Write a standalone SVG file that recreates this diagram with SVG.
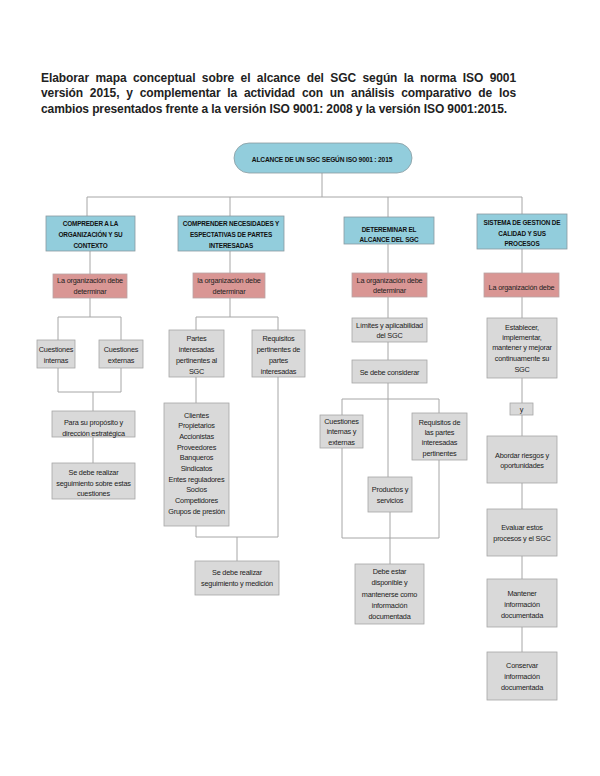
<svg xmlns="http://www.w3.org/2000/svg" width="600" height="776" viewBox="0 0 600 776">
<style>
.title{font-family:"Liberation Sans",Arial,sans-serif;font-size:12px;font-weight:bold;fill:#222;letter-spacing:-0.1px}
.blue{fill:#92CDDC;stroke:#8a9aa0;stroke-width:0.8}
.pink{fill:#D99694;stroke:#b9a4a4;stroke-width:0.8}
.gray{fill:#D9D9D9;stroke:#a6a6a6;stroke-width:0.8}
.hb{font-family:"Liberation Sans",Arial,sans-serif;font-size:6.4px;font-weight:bold;fill:#111;text-anchor:middle;letter-spacing:-0.15px}
.t{font-family:"Liberation Sans",Arial,sans-serif;font-size:7.3px;fill:#222;text-anchor:middle;letter-spacing:-0.2px}
#connectors path{fill:none;stroke:#a6a6a6;stroke-width:1}
</style>
<rect width="600" height="776" fill="#fff"/>
<g id="title">
<text class="title" x="41" y="81.5" word-spacing="3.2" textLength="475" lengthAdjust="spacing">Elaborar mapa conceptual sobre el alcance del SGC según la norma ISO 9001</text>
<text class="title" x="41" y="97" word-spacing="3.6" textLength="475" lengthAdjust="spacing">versión 2015, y complementar la actividad con un análisis comparativo de los</text>
<text class="title" x="41" y="112.5" textLength="466" lengthAdjust="spacing">cambios presentados frente a la versión ISO 9001: 2008 y la versión ISO 9001:2015.</text>
</g>
<g id="connectors">
<path d="M322 172V197M87 197H522M87 197V216M230 197V216M388 197V217M522 197V214"/>
<path d="M90 251V274M90 298V317M58 317H121M58 317V340M121 317V340M58 368V392M121 368V392M58 392H121M93 392V411M93 437V463"/>
<path d="M230 251V273M230 298V317M196 317H278M196 317V330M278 317V330M196 377V403M278 377V537M196 526V537M196 537H278M237 537V561"/>
<path d="M388 244V273M388 297V318M388 342V360M388 383V399M342 399H439M342 399V415M439 399V413M388 399V477M342 448V538M439 460V538M390 512V538M342 538H439M390 538V564"/>
<path d="M522 249V273M522 297V318M522 378V403M522 415V436M522 483V509M522 556V579M522 627V652"/>
</g>
<g id="root">
<rect class="blue" x="234" y="143" width="178" height="30" rx="15"/>
<text class="hb" x="322" y="162" style="font-size:6.6px">ALCANCE DE UN SGC SEGÚN ISO 9001 : 2015</text>
</g>
<g id="c1-head">
<rect class="blue" x="46" y="216" width="89" height="35"/>
<text class="hb" x="90.5" y="226">COMPREDER A LA</text>
<text class="hb" x="90.5" y="237">ORGANIZACIÓN Y SU</text>
<text class="hb" x="90.5" y="248">CONTEXTO</text>
</g>
<g id="c2-head">
<rect class="blue" x="178" y="216" width="106" height="35"/>
<text class="hb" x="231" y="226">COMPRENDER NECESIDADES Y</text>
<text class="hb" x="231" y="237">ESPECTATIVAS DE PARTES</text>
<text class="hb" x="231" y="248">INTERESADAS</text>
</g>
<g id="c3-head">
<rect class="blue" x="344" y="217" width="90" height="27"/>
<text class="hb" x="389" y="231.5">DETEREMINAR EL</text>
<text class="hb" x="389" y="242">ALCANCE DEL SGC</text>
</g>
<g id="c4-head">
<rect class="blue" x="477" y="214" width="90" height="35"/>
<text class="hb" x="522" y="224.5">SISTEMA DE GESTION DE</text>
<text class="hb" x="522" y="235.5">CALIDAD Y SUS</text>
<text class="hb" x="522" y="246">PROCESOS</text>
</g>
<g id="c1-org">
<rect class="pink" x="53" y="274" width="74" height="24"/>
<text class="t" x="90" y="283">La organización debe</text>
<text class="t" x="90" y="293.5">determinar</text>
</g>
<g id="c2-org">
<rect class="pink" x="193" y="273" width="72" height="25"/>
<text class="t" x="229" y="282.5">la organización debe</text>
<text class="t" x="229" y="293.5">determinar</text>
</g>
<g id="c3-org">
<rect class="pink" x="352" y="273" width="75" height="24"/>
<text class="t" x="389.5" y="282.5">La organización debe</text>
<text class="t" x="389.5" y="293">determinar</text>
</g>
<g id="c4-org">
<rect class="pink" x="484" y="273" width="75" height="24"/>
<text class="t" x="521.5" y="289.5">La organización debe</text>
</g>
<g id="c1-int">
<rect class="gray" x="37" y="340" width="38" height="28"/>
<text class="t" x="56" y="351.5">Cuestiones</text>
<text class="t" x="56" y="362.5">internas</text>
</g>
<g id="c1-ext">
<rect class="gray" x="99" y="340" width="44" height="28"/>
<text class="t" x="121" y="351.5">Cuestiones</text>
<text class="t" x="121" y="362.5">externas</text>
</g>
<g id="c1-prop">
<rect class="gray" x="52" y="411" width="83" height="26"/>
<text class="t" x="93.5" y="424.5">Para su propósito y</text>
<text class="t" x="93.5" y="435.5">dirección estratégica</text>
</g>
<g id="c1-seg">
<rect class="gray" x="52" y="463" width="83" height="36"/>
<text class="t" x="93.5" y="474.5">Se debe realizar</text>
<text class="t" x="93.5" y="485.5">seguimiento sobre estas</text>
<text class="t" x="93.5" y="495.5">cuestiones</text>
</g>
<g id="c2-partes">
<rect class="gray" x="169" y="330" width="55" height="47"/>
<text class="t" x="196.5" y="341">Partes</text>
<text class="t" x="196.5" y="352">interesadas</text>
<text class="t" x="196.5" y="363">pertinentes al</text>
<text class="t" x="196.5" y="374">SGC</text>
</g>
<g id="c2-req">
<rect class="gray" x="252" y="330" width="53" height="47"/>
<text class="t" x="278.5" y="341">Requisitos</text>
<text class="t" x="278.5" y="352">pertinentes de</text>
<text class="t" x="278.5" y="363">partes</text>
<text class="t" x="278.5" y="374">interesadas</text>
</g>
<g id="c2-list">
<rect class="gray" x="164" y="403" width="65" height="123"/>
<text class="t" x="196.5" y="417.5">Clientes</text>
<text class="t" x="196.5" y="428.2">Propietarios</text>
<text class="t" x="196.5" y="438.8">Accionistas</text>
<text class="t" x="196.5" y="449.5">Proveedores</text>
<text class="t" x="196.5" y="460.2">Banqueros</text>
<text class="t" x="196.5" y="470.8">Sindicatos</text>
<text class="t" x="196.5" y="481.5">Entes reguladores</text>
<text class="t" x="196.5" y="492.2">Socios</text>
<text class="t" x="196.5" y="502.8">Competidores</text>
<text class="t" x="196.5" y="513.5">Grupos de presión</text>
</g>
<g id="c2-seg">
<rect class="gray" x="195" y="561" width="84" height="34"/>
<text class="t" x="237" y="574.5">Se debe realizar</text>
<text class="t" x="237" y="585.5">seguimiento y medición</text>
</g>
<g id="c3-lim">
<rect class="gray" x="352" y="318" width="75" height="24"/>
<text class="t" x="389.5" y="327.5">Límites y aplicabilidad</text>
<text class="t" x="389.5" y="338">del SGC</text>
</g>
<g id="c3-cons">
<rect class="gray" x="352" y="360" width="75" height="23"/>
<text class="t" x="389.5" y="374.5">Se debe considerar</text>
</g>
<g id="c3-cue">
<rect class="gray" x="320" y="415" width="43" height="33"/>
<text class="t" x="341.5" y="423.5">Cuestiones</text>
<text class="t" x="341.5" y="434">internas y</text>
<text class="t" x="341.5" y="444.5">externas</text>
</g>
<g id="c3-req">
<rect class="gray" x="412" y="413" width="55" height="47"/>
<text class="t" x="439.5" y="424.5">Requisitos de</text>
<text class="t" x="439.5" y="434.5">las partes</text>
<text class="t" x="439.5" y="445">interesadas</text>
<text class="t" x="439.5" y="455.5">pertinentes</text>
</g>
<g id="c3-prod">
<rect class="gray" x="368" y="477" width="44" height="35"/>
<text class="t" x="390" y="491.5">Productos y</text>
<text class="t" x="390" y="502.5">servicios</text>
</g>
<g id="c3-debe">
<rect class="gray" x="355" y="564" width="69" height="60"/>
<text class="t" x="389.5" y="573.5">Debe estar</text>
<text class="t" x="389.5" y="585">disponible y</text>
<text class="t" x="389.5" y="596.5">mantenerse como</text>
<text class="t" x="389.5" y="607.5">información</text>
<text class="t" x="389.5" y="618.5">documentada</text>
</g>
<g id="c4-est">
<rect class="gray" x="487" y="318" width="70" height="60"/>
<text class="t" x="522" y="329.5">Establecer,</text>
<text class="t" x="522" y="339.5">implementar,</text>
<text class="t" x="522" y="349.5">mantener y mejorar</text>
<text class="t" x="522" y="360.5">continuamente su</text>
<text class="t" x="522" y="371.5">SGC</text>
</g>
<g id="c4-y">
<rect class="gray" x="510" y="403" width="23" height="12"/>
<text class="t" x="521.5" y="411.5">y</text>
</g>
<g id="c4-abo">
<rect class="gray" x="487" y="436" width="70" height="47"/>
<text class="t" x="522" y="457.5">Abordar riesgos y</text>
<text class="t" x="522" y="467.5">oportunidades</text>
</g>
<g id="c4-eva">
<rect class="gray" x="487" y="509" width="70" height="47"/>
<text class="t" x="522" y="529.5">Evaluar estos</text>
<text class="t" x="522" y="541">procesos y el SGC</text>
</g>
<g id="c4-man">
<rect class="gray" x="487" y="579" width="70" height="48"/>
<text class="t" x="522" y="595.5">Mantener</text>
<text class="t" x="522" y="606.5">información</text>
<text class="t" x="522" y="617.5">documentada</text>
</g>
<g id="c4-con">
<rect class="gray" x="487" y="652" width="70" height="48"/>
<text class="t" x="522" y="667.5">Conservar</text>
<text class="t" x="522" y="678.5">información</text>
<text class="t" x="522" y="689.5">documentada</text>
</g>
</svg>
